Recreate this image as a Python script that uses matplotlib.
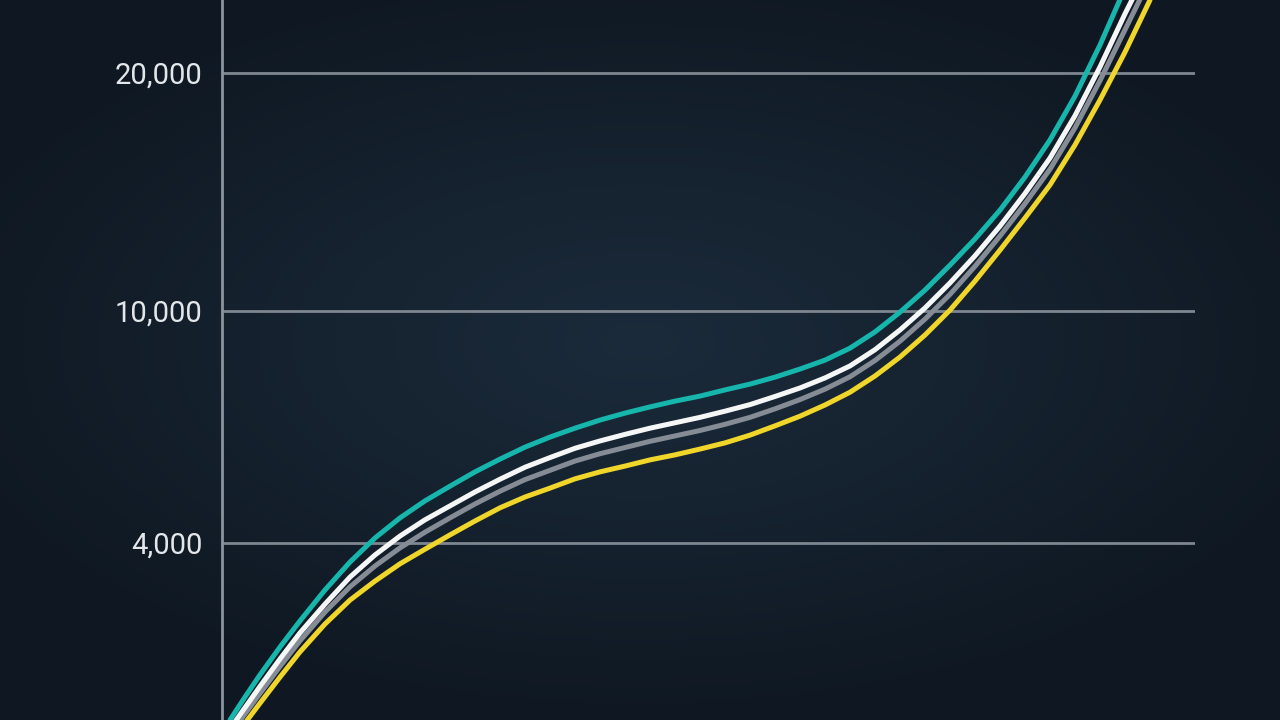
import numpy as np
from matplotlib import pyplot as plt

# values
x = [0, 1.5, 3, 5, 7, 9.5, 12, 14.5, 17, 19.5, 22, 24.5, 27, 29.5, 32, 34.5,
     37, 39.5, 42, 44.5, 47, 49.5, 52, 54.5, 57, 59.5, 62, 64.5, 67, 69.5,
     72, 74.5, 77, 79.5, 82, 84.5, 87, 89.5, 92]
teal = [0, 520, 1020, 1650, 2240, 2940, 3570, 4130, 4650, 5090, 5470, 5840,
        6170, 6480, 6740, 6970, 7180, 7360, 7520, 7670, 7800, 7960, 8110, 8290,
        8500, 8730, 9040, 9460, 9970, 10880, 11930, 13030, 14240, 15630, 17190,
        19030, 21180, 23570, 25590]
white = [-200, 280, 760, 1380, 1970, 2620, 3230, 3730, 4180, 4600, 4960, 5320,
         5650, 5960, 6210, 6450, 6640, 6810, 6970, 7110, 7250, 7410, 7580, 7790,
         8010, 8270, 8580, 9000, 9510, 10130, 11180, 12320, 13570, 14940, 16430,
         18210, 20260, 22490, 24580]
gray = [-330, 140, 600, 1210, 1790, 2440, 3010, 3480, 3890, 4280, 4650, 5010,
        5340, 5640, 5880, 6120, 6310, 6470, 6630, 6770, 6910, 7070, 7250, 7470,
        7710, 7980, 8300, 8720, 9220, 9790, 10700, 11880, 13150, 14510, 15960,
        17700, 19680, 21820, 23950]
yellow = [-500, -70, 380, 970, 1540, 2170, 2710, 3140, 3530, 3860, 4210, 4570,
          4910, 5190, 5420, 5660, 5840, 5990, 6150, 6280, 6430, 6590, 6790, 7030,
          7280, 7570, 7900, 8320, 8810, 9380, 10040, 11260, 12560, 13910, 15300,
          16980, 18870, 20880, 23070]

yticks = [4000, 10000, 20000]
ytick_labels = ["4,000", "10,000", "20,000"]

# the axis in the picture is not linear, so map value -> screen position by knots
knot_v = [-4000, 0, 4000, 10000, 20000, 30000]
knot_u = [-177, 0, 177, 409, 647, 885]


def fwd(v):
    return np.interp(v, knot_v, knot_u)


def inv(u):
    return np.interp(u, knot_u, knot_v)


fig = plt.figure(figsize=(12.8, 7.2), dpi=100)

# radial gradient background
bg = fig.add_axes([0, 0, 1, 1], zorder=0)
gx, gy = np.meshgrid(np.linspace(-1, 1, 320), np.linspace(-1, 1, 180))
r = np.sqrt((gx / 1.15) ** 2 + ((gy + 0.05) / 1.05) ** 2)
r = np.clip(r, 0, 1)
inner = np.array([0x1b, 0x2b, 0x3b]) / 255
outer = np.array([0x0f, 0x18, 0x22]) / 255
img = inner[None, None, :] * (1 - r[..., None]) + outer[None, None, :] * r[..., None]
bg.imshow(img, aspect="auto", extent=[0, 1, 0, 1])
bg.axis("off")

ax = fig.add_axes([222 / 1280, 0, (1195 - 222) / 1280, 1], zorder=1)
ax.patch.set_alpha(0)
ax.set_yscale("function", functions=(fwd, inv))

kw = dict(lw=3.6, solid_capstyle="round", solid_joinstyle="round")
ax.plot(x, yellow, color="#f0d62b", zorder=3, **kw)
ax.plot(x, gray, color="#858c95", zorder=4, **kw)
ax.plot(x, white, color="#f5f7f7", zorder=5, **kw)
ax.plot(x, teal, color="#17b6ad", zorder=6, **kw)

ax.set_xlim(-0.8, 96.5)
ax.set_ylim(0, 23070)
ax.set_yticks(yticks)
ax.set_yticklabels(ytick_labels)
ax.set_xticks([])
ax.set_axisbelow(True)
ax.grid(axis="y", color="#7e8690", lw=2)

for s in ["top", "right", "bottom"]:
    ax.spines[s].set_visible(False)
ax.spines["left"].set_color("#8b939d")
ax.spines["left"].set_linewidth(2)

ax.tick_params(axis="y", length=0, pad=14, labelsize=21, labelcolor="#e4e7ea")
for lab in ax.get_yticklabels():
    lab.set_family(["Roboto", "DejaVu Sans"])

fig.savefig("out.png", dpi=100)
